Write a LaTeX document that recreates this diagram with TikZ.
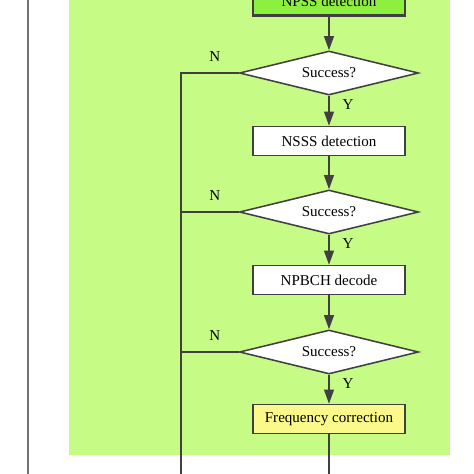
\documentclass[tikz,border=0pt]{standalone}
\usepackage{fontspec}
\setmainfont{Liberation Serif}
\usetikzlibrary{shapes.geometric, arrows.meta}
\definecolor{bggreen}{HTML}{C6FC86}
\definecolor{boxgreen}{HTML}{8EF03E}
\definecolor{boxyellow}{HTML}{FAF98A}
\definecolor{linegray}{HTML}{404040}
\tikzset{
  procbox/.style={draw=linegray, line width=1.1pt, fill=white, minimum width=3.8cm,
    minimum height=0.725cm, inner sep=0pt, font=\fontsize{10.7}{12}\selectfont},
  decide/.style={diamond, aspect=4, draw=linegray, line width=1.1pt, fill=white, minimum width=4.475cm,
    minimum height=1.1cm, inner sep=0pt, font=\fontsize{10.7}{12}\selectfont},
  arr/.style={draw=linegray, line width=1.1pt, -{Triangle[length=10pt,width=7pt]}},
  fline/.style={draw=linegray, line width=1.1pt},
  lbl/.style={font=\fontsize{10.7}{12}\selectfont, inner sep=0pt}
}
\begin{document}
\begin{tikzpicture}[x=0.025cm, y=-0.025cm]
\useasboundingbox (0,0) rectangle (474,474);
\clip (0,0) rectangle (474,474);
% background
\fill [bggreen] (69,-5) rectangle (450,455);
\draw [black!55, line width=1.2pt] (28,-5) -- (28,480);
% main chain
\node [procbox, fill=boxgreen, line width=1.5pt] (npss) at (329,1) {NPSS detection};
\node [decide] (d1) at (329,73) {Success?};
\node [procbox] (nsss) at (329,141) {NSSS detection};
\node [decide] (d2) at (329,212) {Success?};
\node [procbox] (npbch) at (329,280) {NPBCH decode};
\node [decide] (d3) at (329,352) {Success?};
\node [procbox, fill=boxyellow] (freq) at (329,419) {Frequency correction};
\coordinate (ltop) at (181,73);
\coordinate (lbot) at (181,480);
\coordinate (fbot) at (329,480);
\draw [arr] (npss) -- (d1);
\draw [arr] (d1) -- (nsss);
\draw [arr] (nsss) -- (d2);
\draw [arr] (d2) -- (npbch);
\draw [arr] (npbch) -- (d3);
\draw [arr] (d3) -- (freq);
\draw [fline] (freq) -- (fbot);
% failure branch
\draw [fline] (d1.west) -- (ltop) -- (lbot);
\draw [fline] (d2.west) -- (ltop |- d2.west);
\draw [fline] (d3.west) -- (ltop |- d3.west);
\foreach \d in {d1,d2,d3} {
  \node [lbl] at ([xshift=-24*0.025cm, yshift=0.4cm]\d.west) {N};
  \node [lbl] at ([xshift=0.475cm, yshift=-0.78cm]\d.center) {Y};
}
\end{tikzpicture}
\end{document}
